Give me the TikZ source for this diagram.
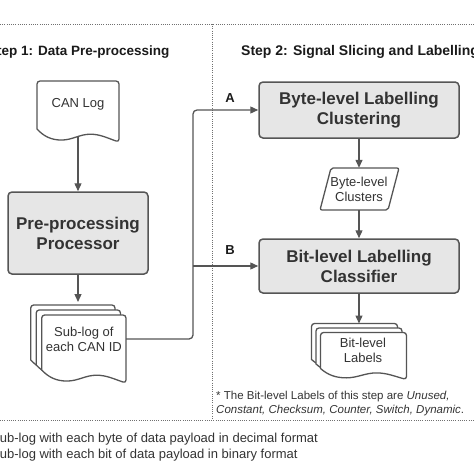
\documentclass[tikz,border=0pt]{standalone}
\usepackage{fontspec}
\setmainfont{Liberation Sans}
\usetikzlibrary{arrows.meta}
\definecolor{ln}{HTML}{555555}
\definecolor{tx}{HTML}{333333}
\definecolor{hd}{HTML}{1A1A1A}
\definecolor{bx}{HTML}{E6E6E6}
\definecolor{dt}{HTML}{707070}
\tikzset{
  procbox/.style={draw=ln, line width=1.5pt, fill=bx, rounded corners=4pt, text=tx,
    font=\fontsize{17}{20}\selectfont\bfseries, align=center, inner sep=0pt},
  conn/.style={draw=ln, line width=1.3pt, -{Triangle[length=8pt,width=7pt]}},
  smalltext/.style={text=tx, font=\fontsize{13}{15}\selectfont, align=center, inner sep=0pt},
  heading/.style={text=hd, font=\fontsize{14}{17}\selectfont\bfseries, inner sep=0pt},
  letter/.style={text=hd, font=\fontsize{13}{15}\selectfont\bfseries, inner sep=0pt},
  docline/.style={draw=ln, line width=1.3pt, fill=white},
  sepline/.style={draw=dt, line width=1pt, dash pattern=on 1pt off 1.2pt},
}
\newcommand{\docpage}[5]{% left x, top y, width, left side height, wave depth
  \draw[docline, rounded corners=3pt] ({#1},{#2+#4}) -- ({#1},{#2}) -- ({#1+#3},{#2}) -- ({#1+#3},{#2+#4+#5}) [sharp corners]
    .. controls ({#1+0.86*#3},{#2+#4+0.7*#5}) and ({#1+0.77*#3},{#2+#4+0.4*#5}) .. ({#1+0.65*#3},{#2+#4+0.4*#5})
    .. controls ({#1+0.52*#3},{#2+#4+0.4*#5}) and ({#1+0.43*#3},{#2+#4+0.85*#5}) .. ({#1+0.3*#3},{#2+#4+0.85*#5})
    .. controls ({#1+0.17*#3},{#2+#4+0.85*#5}) and ({#1+0.08*#3},{#2+#4+0.55*#5}) .. ({#1},{#2+#4}) -- cycle;}
\begin{document}
\begin{tikzpicture}[x=1pt,y=-1pt]
\useasboundingbox (0,0) rectangle (474,474);
% separators
\draw[sepline] (0,24) -- (474,24);
\draw[sepline] (0,420) -- (474,420);
\draw[sepline] (212,24) -- (212,420);
% headings
\node[heading, font=\fontsize{13.5}{16}\selectfont\bfseries, anchor=base west] (h1) at (-12,55) {Step 1: Data Pre-processing};
\node[heading, anchor=base west] (h2) at (241,55) {Step 2: Signal Slicing and Labelling};
% CAN log
\docpage{37}{81}{82}{48}{13}
\node[smalltext] (canlog) at (78,104) {CAN Log};
\coordinate (canlogbot) at (78,137);
% pre-processing
\node[procbox, minimum width=140pt, minimum height=82pt] (pre) at (78,233) {Pre-processing\\Processor};
% sub-log stack
\docpage{30.7}{305}{84.3}{55}{13}
\docpage{36.2}{310}{84.3}{55}{13}
\docpage{41.7}{315}{84.3}{55}{13}
\node[smalltext, minimum width=84.3pt] (sublog) at (83.85,339) {Sub-log of\\each CAN ID};
% step 2 boxes
\node[procbox, minimum width=200pt, minimum height=56pt] (byte) at (359,110) {Byte-level Labelling\\Clustering};
\node[procbox, minimum width=200pt, minimum height=54pt] (bit) at (359,266) {Bit-level Labelling\\Classifier};
% clusters parallelogram
\draw[docline, rounded corners=2pt] (331,168) -- (399,168) -- (388,210) -- (320,210) -- cycle;
\node[smalltext, minimum height=42pt] (clusters) at (359,189) {Byte-level\\Clusters};
% labels stack
\docpage{311.5}{323.5}{86}{36}{11}
\docpage{316}{328}{86}{36}{11}
\docpage{320.5}{332.5}{86}{36}{11}
\node[smalltext] (labels) at (363,350) {Bit-level\\Labels};
\coordinate (labelstop) at (359,323.5);
% connectors
\coordinate (bus) at (193,266);
\draw[conn] (canlogbot) -- (pre.north);
\draw[conn] (pre.south) -- (78,302);
\draw[conn, rounded corners=4pt] (sublog.east) -| (bus) |- (byte.west);
\draw[conn] (bus) -- (bit.west);
\draw[conn] (byte.south) -- (clusters.north);
\draw[conn] (clusters.south) -- (bit.north);
\draw[conn] (bit.south) -- (labelstop);
\node[letter] (la) at (230,98) {A};
\node[letter] (lb) at (230,250) {B};
% footnote
\node[text=tx, font=\fontsize{11.5}{14}\selectfont, align=left, anchor=base west, inner sep=0pt] (note) at (216,413)
  {* The Bit-level Labels of this step are \textit{Unused,}\\\textit{Constant, Checksum, Counter, Switch, Dynamic}.};
% bottom legend
\node[text=tx, font=\fontsize{13}{16}\selectfont, align=left, anchor=base west, inner sep=0pt] (lega) at (-9,442)
  {Sub-log with each byte of data payload in decimal format};
\node[text=tx, font=\fontsize{13}{16}\selectfont, align=left, anchor=base west, inner sep=0pt] (legb) at (-9,458)
  {Sub-log with each bit of data payload in binary format};
\end{tikzpicture}
\end{document}
